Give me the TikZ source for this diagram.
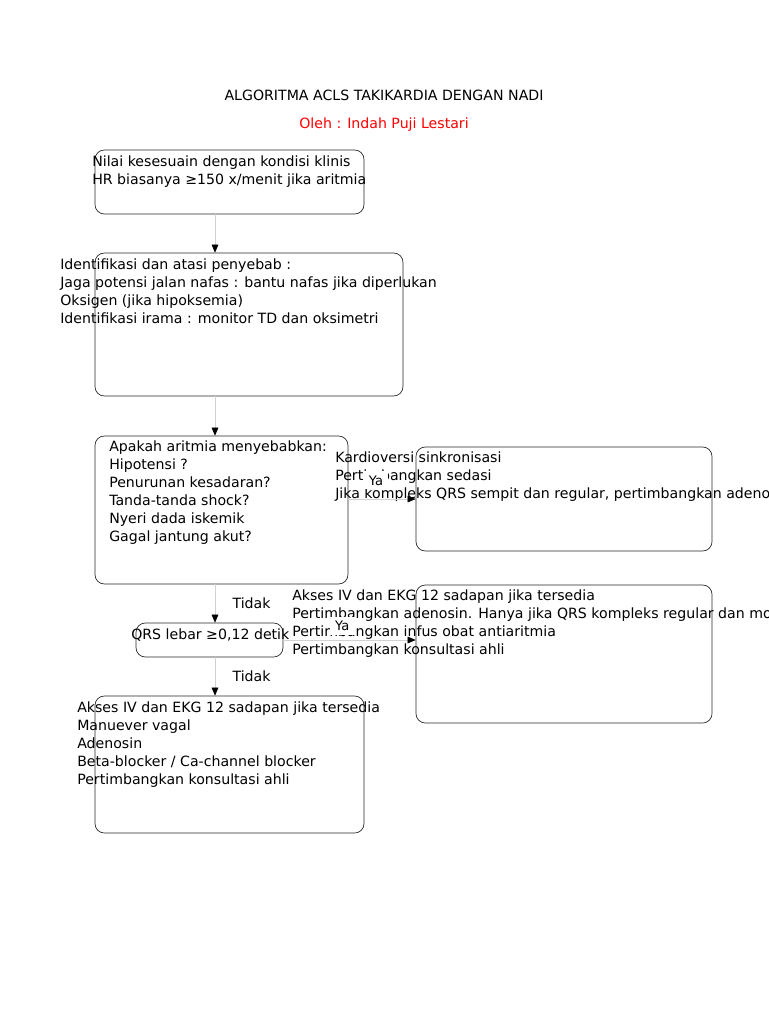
\documentclass[tikz,border=0pt]{standalone}
\usepackage{fontspec}
\setmainfont{DejaVu Sans}
\usetikzlibrary{arrows.meta,positioning}

\begin{document}
\begin{tikzpicture}[x=0.75pt,y=-0.75pt,
 font=\fontsize{10.6}{13.5}\selectfont,
 box/.style 2 args={draw=black!85,line width=0.5pt,rounded corners=7pt,inner sep=0pt,
   minimum width=#1*0.75pt,minimum height=#2*0.75pt},
 txt/.style={anchor=base west,align=left,inner sep=0pt},
 arr/.style={draw=black!18,-{Triangle[color=black,length=6pt,width=5pt]}},
 lbl/.style={fill=white,inner xsep=4pt,inner ysep=3pt,font=\fontsize{9.8}{11}\selectfont}]
\useasboundingbox (0,0) rectangle (768,1024);

% judul
\node (title) at (384,95) {ALGORITMA ACLS TAKIKARDIA DENGAN NADI};
\node[red] (author) at (384,125) {Oleh : Indah Puji Lestari};

% kotak
\node[box={269}{64}]  (b1) at (229.5,182) {};
\node[box={308}{143}] (b2) at (249,324.5) {};
\node[box={253}{148}] (b3) at (221.5,510) {};
\node[box={296}{104}] (r1) at (564,499) {};
\node[box={147}{34}]  (q)  at (209.5,640) {};
\node[box={296}{138}] (r2) at (564,654) {};
\node[box={269}{137}] (b4) at (229.5,764.5) {};

% isi kotak (base = baris terakhir)
\node[txt] (t1) at (92,184) {Nilai kesesuain dengan kondisi klinis\\
  HR biasanya ≥150 x/menit jika aritmia};
\node[txt] (t2) at (60,323) {Identifikasi dan atasi penyebab :\\
  Jaga potensi jalan nafas : bantu nafas jika diperlukan\\
  Oksigen (jika hipoksemia)\\
  Identifikasi irama : monitor TD dan oksimetri};
\node[txt] (t3) at (109,541) {Apakah aritmia menyebabkan:\\
  Hipotensi ?\\
  Penurunan kesadaran?\\
  Tanda-tanda shock?\\
  Nyeri dada iskemik\\
  Gagal jantung akut?};
\node[txt] (t4) at (335,498) {Kardioversi sinkronisasi\\
  Pertimbangkan sedasi\\
  Jika kompleks QRS sempit dan regular, pertimbangkan adenosin};
\node[txt] (t5) at (131,639) {QRS lebar ≥0,12 detik};
\node[txt] (t6) at (292,654) {Akses IV dan EKG 12 sadapan jika tersedia\\
  Pertimbangkan adenosin. Hanya jika QRS kompleks regular dan monomorfik\\
  Pertimbangkan infus obat antiaritmia\\
  Pertimbangkan konsultasi ahli};
\node[txt] (t7) at (77,784) {Akses IV dan EKG 12 sadapan jika tersedia\\
  Manuever vagal\\
  Adenosin\\
  Beta-blocker / Ca-channel blocker\\
  Pertimbangkan konsultasi ahli};

% panah
\coordinate (ax) at (215,0);
\foreach \a/\b in {b1/b2,b2/b3} \draw[arr] (\a.south -| ax) -- (\b.north -| ax);
\draw[arr] (b3.south -| ax) -- node[right=13pt,inner sep=0pt] (n1) {Tidak} (q.north -| ax);
\draw[arr] (q.south -| ax) -- node[right=13pt,inner sep=0pt] (n2) {Tidak} (b4.north -| ax);
\draw[arr] (r1.west -| b3.east) -- node[lbl,xshift=-4.5pt,yshift=14pt] (y1) {Ya} (r1.west);
\draw[arr] (q.east) -- node[lbl,xshift=-5.5pt,yshift=10.5pt] (y2) {Ya} (q.east -| r2.west);
\end{tikzpicture}
\end{document}
